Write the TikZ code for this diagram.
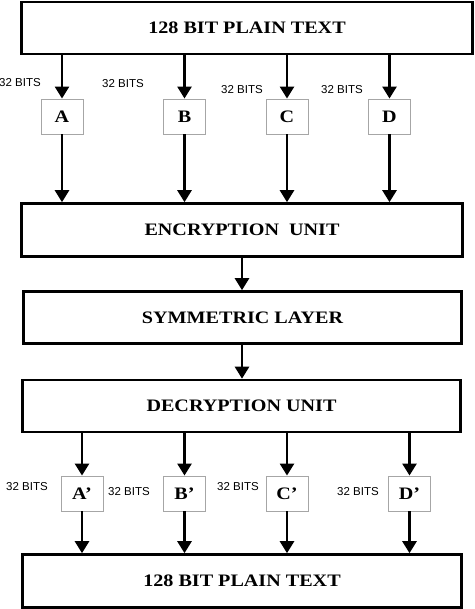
\documentclass[tikz,border=0pt]{standalone}
\usepackage{fontspec}
\setmainfont{Liberation Serif}
\newfontfamily\boxfont[FakeStretch=1.15]{Liberation Serif}
\newfontfamily\labfont{Liberation Sans}
\usetikzlibrary{arrows.meta}
\begin{document}
\begin{tikzpicture}[x=1pt,y=-1pt,
  bigbox/.style={draw,line width=2.6pt,inner sep=0pt,font=\boxfont\fontsize{17.5}{20}\selectfont\bfseries},
  smallbox/.style={draw=gray!70,line width=0.9pt,inner sep=0pt,minimum width=42pt,minimum height=35pt,font=\boxfont\fontsize{17.5}{20}\selectfont\bfseries},
  arr/.style={line width=2.6pt,-{Triangle[length=12pt,width=14pt]}},
  bits/.style={font=\labfont\fontsize{11.5}{12}\selectfont,inner sep=0pt}]
\useasboundingbox (0,0) rectangle (474,609);
% big boxes
\node[bigbox,minimum width=451pt,minimum height=52pt] (top) at (247,28) {128 BIT PLAIN TEXT};
\node[bigbox,minimum width=441pt,minimum height=53pt] (enc) at (242,230) {ENCRYPTION\ \ UNIT};
\node[bigbox,minimum width=438pt,minimum height=52pt] (sym) at (242.5,317.5) {SYMMETRIC LAYER};
\node[bigbox,minimum width=438pt,minimum height=52pt] (dec) at (241.5,406) {DECRYPTION UNIT};
\node[bigbox,minimum width=439pt,minimum height=53pt] (bot) at (242,581) {128 BIT PLAIN TEXT};
% small boxes
\node[smallbox] (A) at (62,116.5) {A};
\node[smallbox] (B) at (184.5,116.5) {B};
\node[smallbox] (C) at (287,116.5) {C};
\node[smallbox] (D) at (389.5,116.5) {D};
\node[smallbox] (A2) at (82,493.5) {A’};
\node[smallbox] (B2) at (184.5,493.5) {B’};
\node[smallbox] (C2) at (287,493.5) {C’};
\node[smallbox] (D2) at (409.5,493.5) {D’};
% arrows top
\foreach \n in {A,B,C,D}{
  \draw[arr] (top.south -| \n.north) -- (\n.north);
  \draw[arr] (\n.south) -- (enc.north -| \n.south);
}
\draw[arr] (enc.south -| 242,0) -- (sym.north -| 242,0);
\draw[arr] (sym.south -| 242,0) -- (dec.north -| 242,0);
\foreach \n in {A2,B2,C2,D2}{
  \draw[arr] (dec.south -| \n.north) -- (\n.north);
  \draw[arr] (\n.south) -- (bot.north -| \n.south);
}
% labels
\node[bits] (l1) at (20,83) {32 BITS};
\node[bits] (l2) at (123,84) {32 BITS};
\node[bits] (l3) at (242,90) {32 BITS};
\node[bits] (l4) at (342,90) {32 BITS};
\node[bits] (l5) at (27,487) {32 BITS};
\node[bits] (l6) at (129,492) {32 BITS};
\node[bits] (l7) at (238,487) {32 BITS};
\node[bits] (l8) at (358,492) {32 BITS};
\end{tikzpicture}
\end{document}
